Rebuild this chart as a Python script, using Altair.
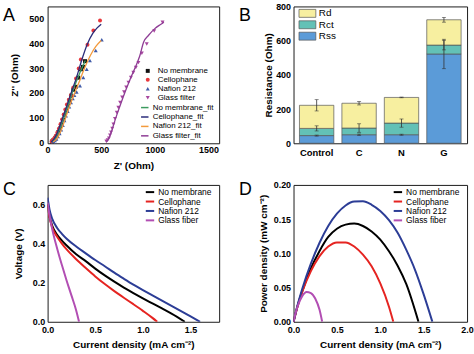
import altair as alt
import pandas as pd

FONT = "Liberation Sans"

# ---------------- Panel A : Nyquist ----------------
a_series = ["No membrane", "Cellophane", "Nafion 212", "Glass filter"]
a_fit_series = ["No membrane_fit", "Cellophane_fit", "Nafion 212_fit", "Glass filter_fit"]
a_pt_colors = ["#111111", "#E8383D", "#3F5AA8", "#A8479F"]
a_fit_colors = ["#3C9B5F", "#2A2C7A", "#F39A3C", "#8E3C95"]
a_shapes = ["square", "circle", "triangle-up", "triangle-down"]

nomem_x = [40, 55, 70, 85, 100, 115, 130, 145, 160, 175, 190, 205, 220, 240, 262, 286, 311, 330, 349]
nomem_y = [2, 8, 15, 25, 40, 55, 72, 90, 110, 128, 148, 168, 188, 212, 224, 261, 295, 305, 328]
cel_x = [38, 48, 60, 75, 90, 105, 120, 135, 150, 165, 180, 198, 218, 240, 265, 290, 310, 372, 427, 489]
cel_y = [2, 7, 14, 25, 38, 54, 72, 92, 112, 132, 152, 172, 190, 221, 258, 298, 335, 395, 452, 493]
naf_x = [55, 68, 82, 97, 112, 127, 142, 157, 172, 187, 202, 218, 235, 250, 271, 302, 333, 365, 395, 449, 505]
naf_y = [2, 6, 12, 22, 35, 50, 68, 87, 106, 125, 143, 160, 176, 190, 203, 228, 262, 295, 331, 371, 415]
gla_x = [548, 560, 572, 582, 592, 603, 614, 628, 645, 660, 676, 695, 713, 733, 754, 777, 800, 823, 847, 879, 925, 994, 1072]
gla_y = [3, 8, 16, 28, 40, 55, 72, 95, 120, 140, 161, 182, 203, 222, 242, 262, 282, 302, 322, 360, 398, 450, 486]

nomem_fx = [35, 50, 65, 85, 105, 130, 160, 200, 250, 300, 352]
nomem_fy = [0, 5, 12, 26, 44, 72, 110, 162, 225, 280, 331]
cel_fx = [32, 45, 60, 80, 100, 130, 170, 220, 270, 320, 370, 420, 460, 500]
cel_fy = [0, 5, 13, 28, 48, 85, 135, 200, 262, 335, 397, 440, 462, 478]
naf_fx = [52, 68, 88, 110, 130, 160, 200, 250, 300, 350, 400, 450, 500]
naf_fy = [0, 5, 15, 32, 52, 88, 140, 196, 250, 305, 352, 388, 412]
gla_fx = [545, 560, 580, 600, 630, 670, 720, 770, 820, 860, 895, 940, 1000, 1050, 1085]
gla_fy = [0, 6, 24, 48, 90, 140, 200, 255, 305, 350, 405, 432, 460, 476, 486]

# ---------------- Panel B : resistance ----------------
b_cats = ["Control", "C", "N", "G"]
b_comps = ["Rd", "Rct", "Rss"]
b_colors = ["#F7EFA0", "#63C1B6", "#5B9BD8"]
rss = [45, 50, 50, 522]
rct = [42, 39, 68, 52]
rd = [135, 145, 150, 148]
rss_err = [3, 4, 3, 86]
rct_err = [15, 25, 24, 28]
rd_err = [33, 10, 2, 14]

# ---------------- Panel C / D ----------------
cd_series = ["No membrane", "Cellophane", "Nafion 212", "Glass fiber"]
cd_colors = ["#000000", "#E52421", "#2C3D96", "#B24EB3"]

c_i_black = [0, 0.02, 0.05, 0.1, 0.15, 0.2, 0.3, 0.4, 0.5, 0.6, 0.7, 0.8, 0.9, 1.0, 1.1, 1.2, 1.3, 1.44]
c_v_black = [0.60, 0.54, 0.49, 0.445, 0.415, 0.39, 0.345, 0.31, 0.272, 0.237, 0.205, 0.175, 0.147, 0.12, 0.094, 0.068, 0.042, 0.0]
c_i_red = [0, 0.02, 0.05, 0.1, 0.15, 0.2, 0.3, 0.4, 0.5, 0.6, 0.7, 0.8, 0.9, 1.0, 1.1, 1.15]
c_v_red = [0.60, 0.535, 0.48, 0.435, 0.40, 0.37, 0.32, 0.275, 0.232, 0.193, 0.157, 0.123, 0.09, 0.056, 0.02, 0.0]
c_i_blue = [0, 0.02, 0.05, 0.1, 0.15, 0.2, 0.3, 0.4, 0.5, 0.6, 0.7, 0.8, 0.9, 1.0, 1.1, 1.2, 1.3, 1.4, 1.5, 1.6]
c_v_blue = [0.635, 0.575, 0.525, 0.48, 0.45, 0.425, 0.385, 0.35, 0.316, 0.284, 0.251, 0.22, 0.19, 0.162, 0.135, 0.108, 0.081, 0.054, 0.027, 0.0]
c_i_purple = [0, 0.02, 0.05, 0.1, 0.15, 0.2, 0.25, 0.3, 0.33]
c_v_purple = [0.61, 0.545, 0.47, 0.375, 0.29, 0.21, 0.135, 0.058, 0.0]

d_i_black = [0, 0.05, 0.1, 0.2, 0.3, 0.4, 0.5, 0.6, 0.7, 0.8, 0.9, 1.0, 1.1, 1.2, 1.3, 1.44]
d_p_black = [0, 0.0245, 0.0445, 0.078, 0.1035, 0.124, 0.136, 0.142, 0.1435, 0.14, 0.132, 0.12, 0.103, 0.082, 0.055, 0]
d_i_red = [0, 0.05, 0.1, 0.2, 0.3, 0.4, 0.5, 0.6, 0.7, 0.8, 0.9, 1.0, 1.1, 1.15]
d_p_red = [0, 0.024, 0.0435, 0.074, 0.096, 0.11, 0.116, 0.116, 0.11, 0.098, 0.081, 0.056, 0.022, 0]
d_i_blue = [0, 0.05, 0.1, 0.2, 0.3, 0.4, 0.5, 0.6, 0.7, 0.8, 0.9, 1.0, 1.1, 1.2, 1.3, 1.4, 1.5, 1.6]
d_p_blue = [0, 0.026, 0.048, 0.085, 0.1155, 0.14, 0.158, 0.17, 0.1757, 0.176, 0.171, 0.162, 0.1485, 0.13, 0.105, 0.076, 0.04, 0]
d_i_purple = [0, 0.02, 0.05, 0.1, 0.15, 0.2, 0.25, 0.3, 0.33]
d_p_purple = [0, 0.011, 0.0235, 0.0375, 0.0435, 0.042, 0.034, 0.0174, 0]


def long_df(names, xs, ys, key="series"):
    rows = []
    for n, xx, yy in zip(names, xs, ys):
        for i, (a, b) in enumerate(zip(xx, yy)):
            rows.append({key: n, "x": a, "y": b, "idx": i})
    return pd.DataFrame(rows)


def letter(t, dx, dy):
    return alt.Chart(pd.DataFrame({"t": [t]})).mark_text(
        align="left", baseline="alphabetic", fontSize=18, font=FONT, color="black"
    ).encode(text="t:N", x=alt.value(dx), y=alt.value(dy))


def axis(**kw):
    return alt.Axis(labelOverlap=False, labelFlush=False, ticks=False, domain=False, grid=False, **kw)


W1, W2, H = 173, 175, 138

LINE_PATH = "M-1.6,0L1.6,0"
RECT_PATH = "M-1.7,-0.8L1.7,-0.8L1.7,0.8L-1.7,0.8Z"

# ---- A ----
df_a_pts = long_df(a_series, [nomem_x, cel_x, naf_x, gla_x], [nomem_y, cel_y, naf_y, gla_y])
df_a_fit = long_df(a_fit_series, [nomem_fx, cel_fx, naf_fx, gla_fx], [nomem_fy, cel_fy, naf_fy, gla_fy], key="fit")

pt_legend = alt.Legend(title=None, orient="none", legendX=97, legendY=61, labelFontSize=8,
                       symbolSize=16, rowPadding=1, labelOffset=6, padding=0)
fit_legend = alt.Legend(title=None, orient="none", legendX=94, legendY=98, labelFontSize=8,
                        symbolType=LINE_PATH, symbolSize=22, symbolStrokeWidth=1.5,
                        rowPadding=1.5, labelOffset=4, padding=0)

ax_a = alt.X("x:Q", scale=alt.Scale(domain=[0, 1600], nice=False),
             axis=axis(values=[0, 500, 1000, 1500], format="d", title="Z' (Ohm)", labelPadding=2, titlePadding=6))
ay_a = alt.Y("y:Q", scale=alt.Scale(domain=[-5, 550], nice=False),
             axis=axis(values=[0, 100, 200, 300, 400, 500], format="d", title="Z'' (Ohm)", labelPadding=4, titlePadding=9))

a_pts = alt.Chart(df_a_pts).mark_point(filled=True, size=16, opacity=1).encode(
    x=ax_a, y=ay_a,
    color=alt.Color("series:N", scale=alt.Scale(domain=a_series, range=a_pt_colors), legend=pt_legend),
    shape=alt.Shape("series:N", scale=alt.Scale(domain=a_series, range=a_shapes), legend=pt_legend),
)
a_fit = alt.Chart(df_a_fit).mark_line(strokeWidth=1.3, interpolate="monotone").encode(
    x=ax_a, y=ay_a,
    stroke=alt.Stroke("fit:N", scale=alt.Scale(domain=a_fit_series, range=a_fit_colors), legend=fit_legend),
    order="idx:Q",
)
chart_a = alt.layer(a_pts, a_fit, letter("A", -45, 15)).properties(width=W1, height=H)

# ---- B ----
b_rows = []
for i, c in enumerate(b_cats):
    b_rows.append({"cat": c, "comp": "Rss", "val": rss[i], "ord": 0})
    b_rows.append({"cat": c, "comp": "Rct", "val": rct[i], "ord": 1})
    b_rows.append({"cat": c, "comp": "Rd", "val": rd[i], "ord": 2})
df_b = pd.DataFrame(b_rows)

e_rows = []
for i, c in enumerate(b_cats):
    lvl1 = rss[i]
    lvl2 = rss[i] + rct[i]
    lvl3 = rss[i] + rct[i] + rd[i]
    for lv, er in [(lvl1, rss_err[i]), (lvl2, rct_err[i]), (lvl3, rd_err[i])]:
        e_rows.append({"cat": c, "lo": lv - er, "hi": lv + er})
df_e = pd.DataFrame(e_rows)

xb = alt.X("cat:N", sort=b_cats, scale=alt.Scale(paddingInner=0.19, paddingOuter=0.14),
           axis=axis(title=None, labelAngle=0, labelFontSize=9.5, labelPadding=4))
yb_axis = axis(values=[0, 200, 400, 600, 800], format="d", title="Resistance (Ohm)", labelPadding=3, titlePadding=2)
yb_scale = alt.Scale(domain=[0, 800], nice=False)
b_legend = alt.Legend(title=None, orient="none", legendX=8.5, legendY=1.5, labelFontSize=10,
                      symbolType=RECT_PATH, symbolSize=100,
                      symbolStrokeColor="#555555", symbolStrokeWidth=0.7,
                      rowPadding=0.5, labelOffset=6, padding=0)
bars = alt.Chart(df_b).mark_bar(stroke="#555555", strokeWidth=0.7).encode(
    x=xb,
    y=alt.Y("val:Q", stack="zero", scale=yb_scale, axis=yb_axis),
    color=alt.Color("comp:N", scale=alt.Scale(domain=b_comps, range=b_colors), legend=b_legend),
    order=alt.Order("ord:Q", sort="ascending"),
)
err_rule = alt.Chart(df_e).mark_rule(color="#333333", strokeWidth=0.8).encode(
    x=xb, y=alt.Y("lo:Q", scale=yb_scale, axis=yb_axis), y2="hi:Q")
err_lo = alt.Chart(df_e).mark_tick(color="#333333", size=4, thickness=0.8).encode(
    x=xb, y=alt.Y("lo:Q", scale=yb_scale, axis=yb_axis))
err_hi = alt.Chart(df_e).mark_tick(color="#333333", size=4, thickness=0.8).encode(
    x=xb, y=alt.Y("hi:Q", scale=yb_scale, axis=yb_axis))
chart_b = alt.layer(bars, err_rule, err_lo, err_hi, letter("B", -55, 15)).properties(width=W2, height=H)

# ---- C ----
df_c = long_df(cd_series, [c_i_black, c_i_red, c_i_blue, c_i_purple], [c_v_black, c_v_red, c_v_blue, c_v_purple])


def cd_legend(lx):
    return alt.Legend(title=None, orient="none", legendX=lx, legendY=3, labelFontSize=8.5,
                      symbolType=LINE_PATH, symbolSize=28, symbolStrokeWidth=2,
                      rowPadding=0.5, labelOffset=4, padding=0)


c_line = alt.Chart(df_c).mark_line(strokeWidth=2, interpolate="monotone", clip=True).encode(
    x=alt.X("x:Q", scale=alt.Scale(domain=[0, 1.8], nice=False),
            axis=axis(values=[0, 0.5, 1.0, 1.5], format=".1f", title="Current density (mA cm⁻²)",
                      labelPadding=4, titlePadding=5)),
    y=alt.Y("y:Q", scale=alt.Scale(domain=[0, 0.7], nice=False),
            axis=axis(values=[0, 0.2, 0.4, 0.6], format=".1f", title="Voltage (V)",
                      labelPadding=3, titlePadding=9)),
    color=alt.Color("series:N", scale=alt.Scale(domain=cd_series, range=cd_colors), legend=cd_legend(99)),
    order="idx:Q",
)
chart_c = alt.layer(c_line, letter("C", -45, 10)).properties(width=W1, height=H)

# ---- D ----
df_d = long_df(cd_series, [d_i_black, d_i_red, d_i_blue, d_i_purple], [d_p_black, d_p_red, d_p_blue, d_p_purple])
d_line = alt.Chart(df_d).mark_line(strokeWidth=2, interpolate="monotone", clip=True).encode(
    x=alt.X("x:Q", scale=alt.Scale(domain=[0, 2.0], nice=False),
            axis=axis(values=[0, 0.5, 1.0, 1.5, 2.0], format=".1f", title="Current density (mA cm⁻²)",
                      labelPadding=4, titlePadding=5)),
    y=alt.Y("y:Q", scale=alt.Scale(domain=[0, 0.2], nice=False),
            axis=axis(values=[0, 0.05, 0.10, 0.15, 0.20], format=".2f", title="Power density (mW cm⁻²)",
                      labelPadding=3, titlePadding=5)),
    color=alt.Color("series:N", scale=alt.Scale(domain=cd_series, range=cd_colors), legend=cd_legend(101)),
    order="idx:Q",
)
chart_d = alt.layer(d_line, letter("D", -55, 10)).properties(width=W2, height=H)

chart = alt.concat(
    chart_a, chart_b, chart_c, chart_d,
    columns=2, spacing={"row": 42, "column": 75}, bounds="flush",
).resolve_scale(color="independent", shape="independent", stroke="independent").properties(
    padding={"left": 2, "top": 0, "right": 0, "bottom": 0}
).configure(font=FONT, background="white").configure_view(
    stroke="#1a1a1a", strokeWidth=1
).configure_axis(
    labelFont=FONT, titleFont=FONT, labelFontWeight="bold", titleFontWeight="bold",
    labelFontSize=9, titleFontSize=10, labelColor="black", titleColor="black",
).configure_legend(labelFont=FONT, labelColor="black")

chart.save("out.html", embed_options={"renderer": "svg", "actions": False})
